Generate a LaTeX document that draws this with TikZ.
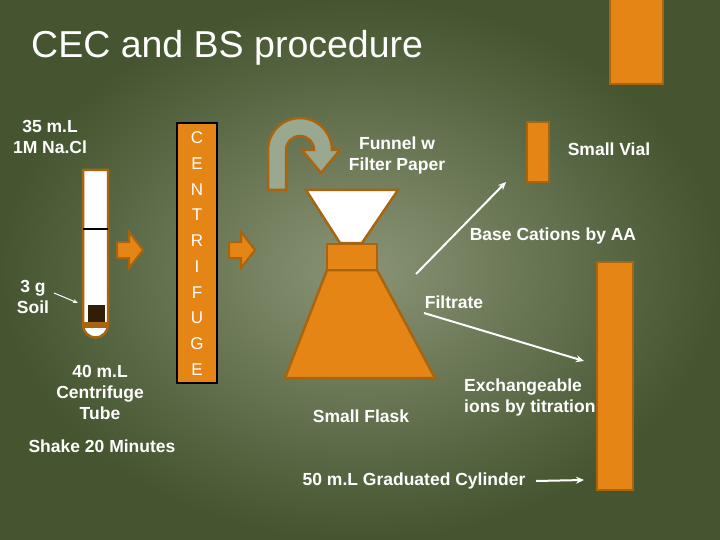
\documentclass[tikz,border=0pt]{standalone}
\usepackage{fontspec}
\setmainfont{Liberation Sans}
\usetikzlibrary{arrows.meta}
\begin{document}
\begin{tikzpicture}[x=1pt,y=-1pt,
  lbl/.style={text=white,font=\bfseries\fontsize{17.5}{21}\selectfont,align=center,inner sep=0pt},
  org/.style={fill=orangeF,draw=orangeD,line width=2.5pt},
  warrow/.style={white,line width=2pt,-{Stealth[length=8pt,width=7pt]}}]
\definecolor{orangeF}{HTML}{E58516}
\definecolor{orangeD}{HTML}{A8640F}
\definecolor{bgin}{HTML}{8A9475}
\definecolor{bgout}{HTML}{44552F}
\definecolor{greyA}{HTML}{9AA88F}
\useasboundingbox (0,0) rectangle (720,540);
\shade[inner color=bgin,outer color=bgout] (0,0) rectangle (720,540);
% title
\node[anchor=west,text=white,font=\fontsize{37.5}{42}\selectfont,inner sep=0pt] (title) at (31,48) {CEC and BS procedure};
% tube
\draw[fill=white,draw=orangeD,line width=2.5pt] (83,170) -- (108,170) -- (108,325) arc[start angle=0,end angle=180,radius=12.5] -- cycle;
\fill[fill=orangeD] (84,322) rectangle (107,328);
\fill[white] (88,328) -- (104,328) arc[start angle=0,end angle=180,radius=8] -- cycle;
\fill[fill=black!70!orangeD] (88,305) rectangle (105,322);
\draw[black,line width=2pt] (83,229) -- (108,229);
\coordinate (soil) at (78,303);
% labels left
\node[lbl] (nacl) at (50,137) {35 m.L\\1M Na.Cl};
\node[lbl] (soiltxt) at (33,297) {3 g\\Soil};
\draw[white,line width=1pt,-{Stealth[length=5pt]}] (54,293) -- (soil);
\node[lbl] (tubetxt) at (100,392) {40 m.L\\Centrifuge\\Tube};
\node[lbl] (shake) at (102,446) {Shake 20 Minutes};
% block arrows
\foreach \xx/\nm in {117/a1,229/a2}{
 \draw[org,line width=2pt] (\xx,242) -- (\xx+12,242) -- (\xx+12,232) -- (\xx+26,250) -- (\xx+12,268) -- (\xx+12,258) -- (\xx,258) -- cycle;
}
% centrifuge
\node[draw=black,fill=orangeF,line width=2.5pt,minimum width=40pt,minimum height=260pt,inner sep=0pt] (cent) at (197,253) {};
\foreach \ch [count=\i] in {C,E,N,T,R,I,F,U,G,E}{
  \node[text=white,font=\fontsize{17}{19}\selectfont,inner sep=0pt] at (197,{138+(\i-1)*25.7}) {\ch};
}
% curved arrow
\draw[fill=greyA,draw=orangeD,line width=2.5pt] (268,190) -- (268,150) arc[start angle=180,end angle=360,radius=32] -- (340,150) -- (321,173) -- (302,150) -- (314,150) arc[start angle=0,end angle=-180,radius=14] -- (286,190) -- cycle;
% funnel and flask
\draw[fill=white,draw=orangeD,line width=2.5pt] (306,190) -- (398,190) -- (362,243) -- (340,243) -- cycle;
\draw[org] (285,378) -- (327,270) -- (377,270) -- (435,378) -- cycle;
\node[org,minimum width=50pt,minimum height=26pt,inner sep=0pt] (neck) at (352,257) {};
\node[lbl] (funtxt) at (397,155) {Funnel w\\Filter Paper};
\node[lbl] (flasktxt) at (361,416) {Small Flask};
% right side
\fill[orangeF] (610,-5) rectangle (663,84);
\draw[orangeD,line width=2pt] (610,-5) -- (610,84) -- (663,84) -- (663,-5);
\node[org,minimum width=22pt,minimum height=60pt,inner sep=0pt] (vial) at (538,152) {};
\node[lbl] (vialtxt) at (609,149) {Small Vial};
\node[org,minimum width=36pt,minimum height=228pt,inner sep=0pt] (cyl) at (615,376) {};
\node[lbl] (bctxt) at (553,236) {Base Cations by AA};
\node[lbl] (filt) at (454,302) {Filtrate};
\node[lbl,align=left,anchor=west] (exch) at (464,397) {Exchangeable\\ions by titration};
\node[lbl] (cyltxt) at (414,481) {50 m.L Graduated Cylinder};
\coordinate (f1) at (416,274); \coordinate (v1) at (506,182);
\coordinate (f2) at (424,313); \coordinate (c2) at (584,361);
\coordinate (g1) at (536,481); \coordinate (g2) at (584,480);
\draw[warrow] (f1) -- (v1);
\draw[warrow] (f2) -- (c2);
\draw[warrow] (g1) -- (g2);
\end{tikzpicture}
\end{document}
